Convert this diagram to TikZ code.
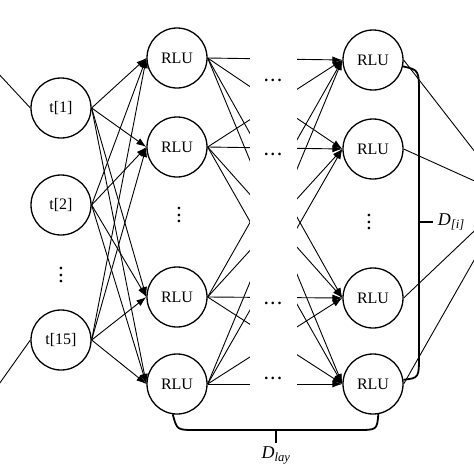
\documentclass[tikz,border=0pt]{standalone}
\usepackage{fontspec}
\setmainfont{Liberation Serif}
\usetikzlibrary{arrows.meta}

\newcommand{\hdts}{.\kern2.6pt.\kern2.6pt.}

\tikzset{
  neuron/.style={draw, circle, line width=1.3pt, minimum size=60pt, inner sep=0pt,
    font=\fontsize{16}{19}\selectfont},
  link/.style={line width=0.9pt},
  arr/.style={link, -{Latex[length=10pt,width=7pt]}},
  brace/.style={line width=1.8pt},
  label/.style={font=\fontsize{18}{21}\selectfont\itshape},
  dots/.style={font=\fontsize{16}{19}\selectfont\bfseries, inner sep=0pt},
}

\begin{document}
\begin{tikzpicture}[x=1pt,y=-1pt]
  \clip (0,0) rectangle (474,474);
  % input layer
  \node[neuron] (t1)  at (61,108) {t[1]};
  \node[neuron] (t2)  at (61,205) {t[2]};
  \node[neuron] (t15) at (61,340) {t[15]};
  \node[dots, rotate=90] (tdots) at (61,275) {\hdts};
  % first and last hidden layer
  \foreach \n/\y in {1/58,2/147,3/297,4/384}
    \node[neuron] (a\n) at (177,\y) {RLU};
  \foreach \n/\y in {1/60,2/149,3/298,4/384}
    \node[neuron] (b\n) at (373,\y) {RLU};
  \node[dots, rotate=90] (adots) at (179,215) {\hdts};
  \node[dots, rotate=90] (bdots) at (369,222) {\hdts};

  \coordinate (inA) at (-30,43);
  \coordinate (inB) at (-30,425);
  \coordinate (out) at (510,197);

  \draw[link] (inA) -- (t1.west);
  \draw[link] (inB) -- (t15.west);
  \foreach \i in {t1,t2,t15}
    \foreach \j in {1,...,4}
      \draw[arr] (\i.east) -- (a\j.west);
  \foreach \i in {1,...,4}
    \foreach \j in {1,...,4}
      \draw[arr] (a\i.east) -- (b\j.west);
  \foreach \i in {1,...,4}
    \draw[link] (b\i.east) -- (out);

  % layers left out
  \fill[white] (250,35) rectangle (297,410);
  \foreach \y [count=\k] in {80,154,303,378}
    \node[dots] (mdots\k) at (273,\y) {\hdts};

  % D_[i]
  \coordinate (ri1) at (419,95);
  \coordinate (ri2) at (419,355);
  \draw[brace] (b1.-12) .. controls (419,70) .. (ri1) -- (ri2)
    .. controls (419,378) .. (b4.8);
  \draw[brace] (419,222) -- ++(14,0) node[label, right, inner sep=4pt] {D\textsubscript{[i]}};
  % D_lay
  \coordinate (lo1) at (195,430);
  \coordinate (lo2) at (357,430);
  \draw[brace] (a4.-98) .. controls (177,430) .. (lo1) -- (lo2)
    .. controls (377,430) .. (b4.-80);
  \draw[brace] (276,430) -- ++(0,13) node[label, below, inner sep=3pt] {D\textsubscript{lay}};
\end{tikzpicture}
\end{document}
